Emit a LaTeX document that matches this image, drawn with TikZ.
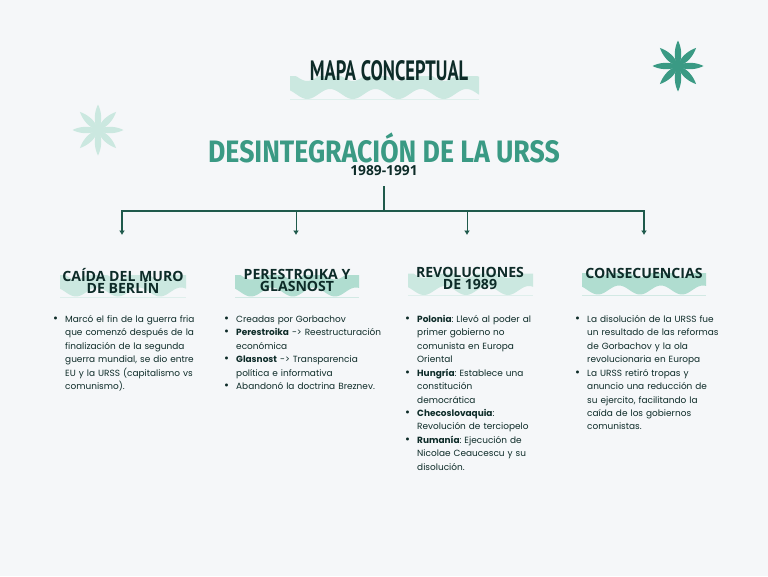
\documentclass[tikz,border=0pt]{standalone}
\usepackage{fontspec}
\setmainfont{Poppins}
\newfontfamily\headfont{Open Sans}
\newfontfamily\titlefont{Fira Sans}
\newfontfamily\narrowfont{PT Sans}
\usetikzlibrary{arrows.meta}

\definecolor{pagebg}{HTML}{F5F7F9}
\definecolor{darkgreen}{HTML}{1F5A4C}
\definecolor{titlegreen}{HTML}{3A9A84}
\definecolor{inkgreen}{HTML}{0D2B28}
\definecolor{paleband}{HTML}{CBE8E0}
\definecolor{midband}{HTML}{B0DDD0}

% wavy band: colour, left, top, width, period, bottom middle, amplitude
\newcommand{\waveband}[7]{
    \fill[#1] plot[domain=#2:#2+#4,samples=90]
            (\x,{#3+max(0,#7*cos(360/#5*(\x-#2-0.38*#5)))}) --
        plot[domain=#2+#4:#2,samples=90]
            (\x,{#6+#7*cos(360/#5*(\x-#2-0.38*#5))}) -- cycle;
    \fill[#1,opacity=0.5] (#2,#6+#7) rectangle (#2+#4,#6+#7+0.8);
}
% heading font, lines closer than the accents would allow
\newcommand{\headsetup}{\headfont\bfseries\fontsize{14.1}{12}\selectfont\setlength{\lineskiplimit}{-20pt}}
% bullet list
\newenvironment{bodylist}{%
    \frenchspacing
    \begin{list}{\scalebox{1.35}{\textbullet}}{\setlength{\leftmargin}{11pt}%
        \setlength{\labelwidth}{6pt}\setlength{\labelsep}{7pt}%
        \setlength{\itemsep}{0pt}\setlength{\parsep}{0pt}%
        \setlength{\topsep}{0pt}\setlength{\partopsep}{0pt}}%
}{\end{list}}

\begin{document}
\begin{tikzpicture}[x=1pt,y=-1pt]
                % define styles
\tikzset{heading/.style={font=\headsetup,
                       text=inkgreen,
                       align=center,
                       inner sep=0,
                       },
         bodytext/.style={font=\fontsize{8.95}{13.45}\selectfont,
                       text=inkgreen,
                       anchor=north west,
                       text width=175pt,
                       inner sep=0,
                       },
         link/.style={draw=darkgreen,
                       line width=1.2pt,
                       },
         droplink/.style={link,
                       -{Latex[length=4.5pt,width=6pt]},
                       },
         thinlink/.style={droplink,
                       line width=0.9pt,
                       }
}

% background
\fill[pagebg] (0,0) rectangle (768,576);
\useasboundingbox (0,0) rectangle (768,576);

% stars
\foreach \sx/\sy/\scol in {678/66/titlegreen, 98/130/paleband}{
    \foreach \angle in {0,45,...,315}
        \fill[\scol,shift={(\sx,\sy)},rotate=\angle]
            (0,0) .. controls (8,-5.5) and (20,-3) .. (25.5,0)
                  .. controls (20,3) and (8,5.5) .. (0,0);
    \fill[\scol] (\sx,\sy) circle (5pt);
}

% bands
\waveband{paleband}{290}{76}{189}{45.5}{94}{5}
\waveband{paleband}{60}{275}{126}{42}{292}{4.5}
\waveband{midband}{235}{275}{124}{42}{292}{4.5}
\waveband{paleband}{408}{273.5}{125}{42}{290.5}{4.5}
\waveband{midband}{582}{273}{124}{42}{290}{4.5}

% titles
\node[inner sep=0,text=inkgreen] (mapa) at (389,71)
    {\scalebox{0.66}[1]{\narrowfont\bfseries\fontsize{28}{28}\selectfont MAPA CONCEPTUAL}};
\node[inner sep=0,text=titlegreen] (urss) at (384,147.5)
    {\scalebox{0.86}[1]{\titlefont\bfseries\fontsize{31}{31}\selectfont DESINTEGRACIÓN DE LA URSS}};
\node[heading,font=\headfont\bfseries\fontsize{13.8}{13}\selectfont] (years) at (384,171) {1989-1991};

% headings
\node[heading] (muro)   at (123,280.5) {CAÍDA DEL MURO\\DE BERLÍN};
\node[heading] (pere)   at (297,280.5) {PERESTROIKA Y\\GLASNOST};
\node[heading] (revo)   at (470,278.5) {REVOLUCIONES\\DE 1989};
\node[heading] (cons)   at (644,273) {CONSECUENCIAS};

% connectors
\coordinate (stem)  at (384,186);
\coordinate (bus)   at (384,211);
\coordinate (drop1) at (122,235);
\coordinate (drop2) at (296,235);
\coordinate (drop3) at (467,235);
\coordinate (drop4) at (644,235);

\draw[link] (stem) -- (bus);
\draw[droplink] (bus) -| (drop1);
\draw[droplink] (bus) -| (drop4);
\draw[thinlink] (drop2 |- bus) -- (drop2);
\draw[thinlink] (drop3 |- bus) -- (drop3);

% lists
\node[bodytext] (list1) at (54,308.7) {\begin{bodylist}
    \item Marcó el fin de la guerra fria\\ que comenzó después de la\\ finalización de la segunda\\ guerra mundial, se dio entre\\ EU y la URSS (capitalismo vs\\ comunismo).
\end{bodylist}};
\node[bodytext] (list2) at (225,308.7) {\begin{bodylist}
    \item Creadas por Gorbachov
    \item \textbf{Perestroika} -> Reestructuración\\ económica
    \item \textbf{Glasnost} -> Transparencia\\ política e informativa
    \item Abandonó la doctrina Breznev.
\end{bodylist}};
\node[bodytext] (list3) at (406,308.7) {\begin{bodylist}
    \item \textbf{Polonia}: Llevó al poder al\\ primer gobierno no\\ comunista en Europa\\ Oriental
    \item \textbf{Hungría}: Establece una\\ constitución\\ democrática
    \item \textbf{Checoslovaquia}:\\ Revolución de terciopelo
    \item \textbf{Rumanía}: Ejecución de\\ Nicolae Ceaucescu y su\\ disolución.
\end{bodylist}};
\node[bodytext] (list4) at (576,308.7) {\begin{bodylist}
    \item La disolución de la URSS fue\\ un resultado de las reformas\\ de Gorbachov y la ola\\ revolucionaria en Europa
    \item La URSS retiró tropas y\\ anuncio una reducción de\\ su ejercito, facilitando la\\ caída de los gobiernos\\ comunistas.
\end{bodylist}};
\end{tikzpicture}
\end{document}
